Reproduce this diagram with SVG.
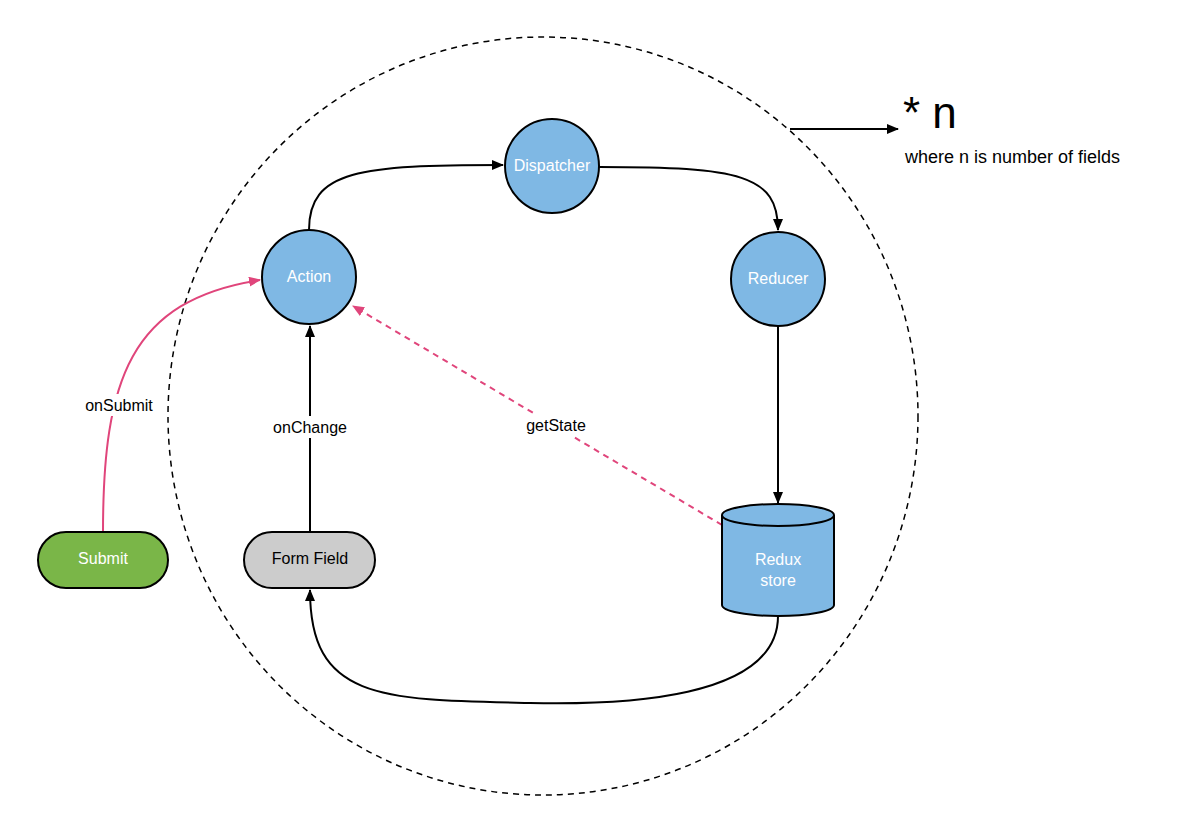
<svg xmlns="http://www.w3.org/2000/svg" width="1200" height="833" viewBox="0 0 1200 833">
<style>
text{font-family:"Liberation Sans",Arial,sans-serif;}
.n{fill:#7fb8e4;stroke:#000;stroke-width:2}
.w{fill:#fff;font-size:16px;text-anchor:middle}
.b{fill:#000;font-size:16px;text-anchor:middle}
.c{fill:none;stroke:#000;stroke-width:2}
.p{fill:none;stroke:#e0457b;stroke-width:2}
</style>
<defs>
<marker id="a" markerWidth="12" markerHeight="10" refX="11" refY="5" orient="auto" markerUnits="userSpaceOnUse"><path d="M0,0 L12,5 L0,10 z" fill="#000"/></marker>
<marker id="ap" markerWidth="12" markerHeight="10" refX="11" refY="5" orient="auto" markerUnits="userSpaceOnUse"><path d="M0,0 L12,5 L0,10 z" fill="#e0457b"/></marker>
</defs>
<rect width="1200" height="833" fill="#fff"/>
<ellipse cx="543" cy="416" rx="375" ry="379" fill="none" stroke="#000" stroke-width="1.5" stroke-dasharray="6,5"/>
<g id="connectors">
<path class="c" d="M309,230 C309,170 360,165 503,165" marker-end="url(#a)"/>
<path class="c" d="M599,167 C740,167 778,175 778,230" marker-end="url(#a)"/>
<path class="c" d="M778,326 L778,503" marker-end="url(#a)"/>
<path class="c" d="M778,616 C778,700 620,705 530,703 C380,700 310,700 310,590" marker-end="url(#a)"/>
<path class="c" d="M310,532 L310,326" marker-end="url(#a)"/>
<path class="p" d="M103,532 C103,380 130,300 260,280" marker-end="url(#ap)"/>
<path class="p" d="M722,525 L353,306" stroke-dasharray="6,5" marker-end="url(#ap)"/>
<path class="c" d="M790,129 L898,129" marker-end="url(#a)"/>
<rect x="268" y="416" width="84" height="22" fill="#fff"/>
<text class="b" x="310" y="433">onChange</text>
<rect x="80" y="394" width="78" height="22" fill="#fff"/>
<text class="b" x="119" y="411">onSubmit</text>
<rect x="522" y="414" width="70" height="22" fill="#fff"/>
<text class="b" x="556" y="431">getState</text>
</g>
<g id="dispatcher"><circle class="n" cx="552" cy="166" r="47"/><text class="w" x="552" y="171">Dispatcher</text></g>
<g id="action"><circle class="n" cx="309" cy="277" r="47"/><text class="w" x="309" y="282">Action</text></g>
<g id="reducer"><circle class="n" cx="778" cy="279" r="47"/><text class="w" x="778" y="284">Reducer</text></g>
<g id="submit"><rect x="38" y="532" width="130" height="56" rx="28" fill="#7ab648" stroke="#000" stroke-width="2"/><text class="w" x="103" y="564">Submit</text></g>
<g id="formfield"><rect x="244" y="532" width="131" height="56" rx="28" fill="#ccc" stroke="#000" stroke-width="2"/><text class="b" x="310" y="564">Form Field</text></g>
<g id="store">
<path class="n" d="M722,515 L722,605 A56,11 0 0 0 834,605 L834,515"/>
<ellipse class="n" cx="778" cy="515" rx="56" ry="11"/>
<text class="w" x="778" y="565">Redux</text><text class="w" x="778" y="586">store</text>
</g>
<g id="note">
<text x="903" y="128" font-size="44" fill="#000">* n</text>
<text x="905" y="163" font-size="18" fill="#000">where n is number of fields</text>
</g>
</svg>
